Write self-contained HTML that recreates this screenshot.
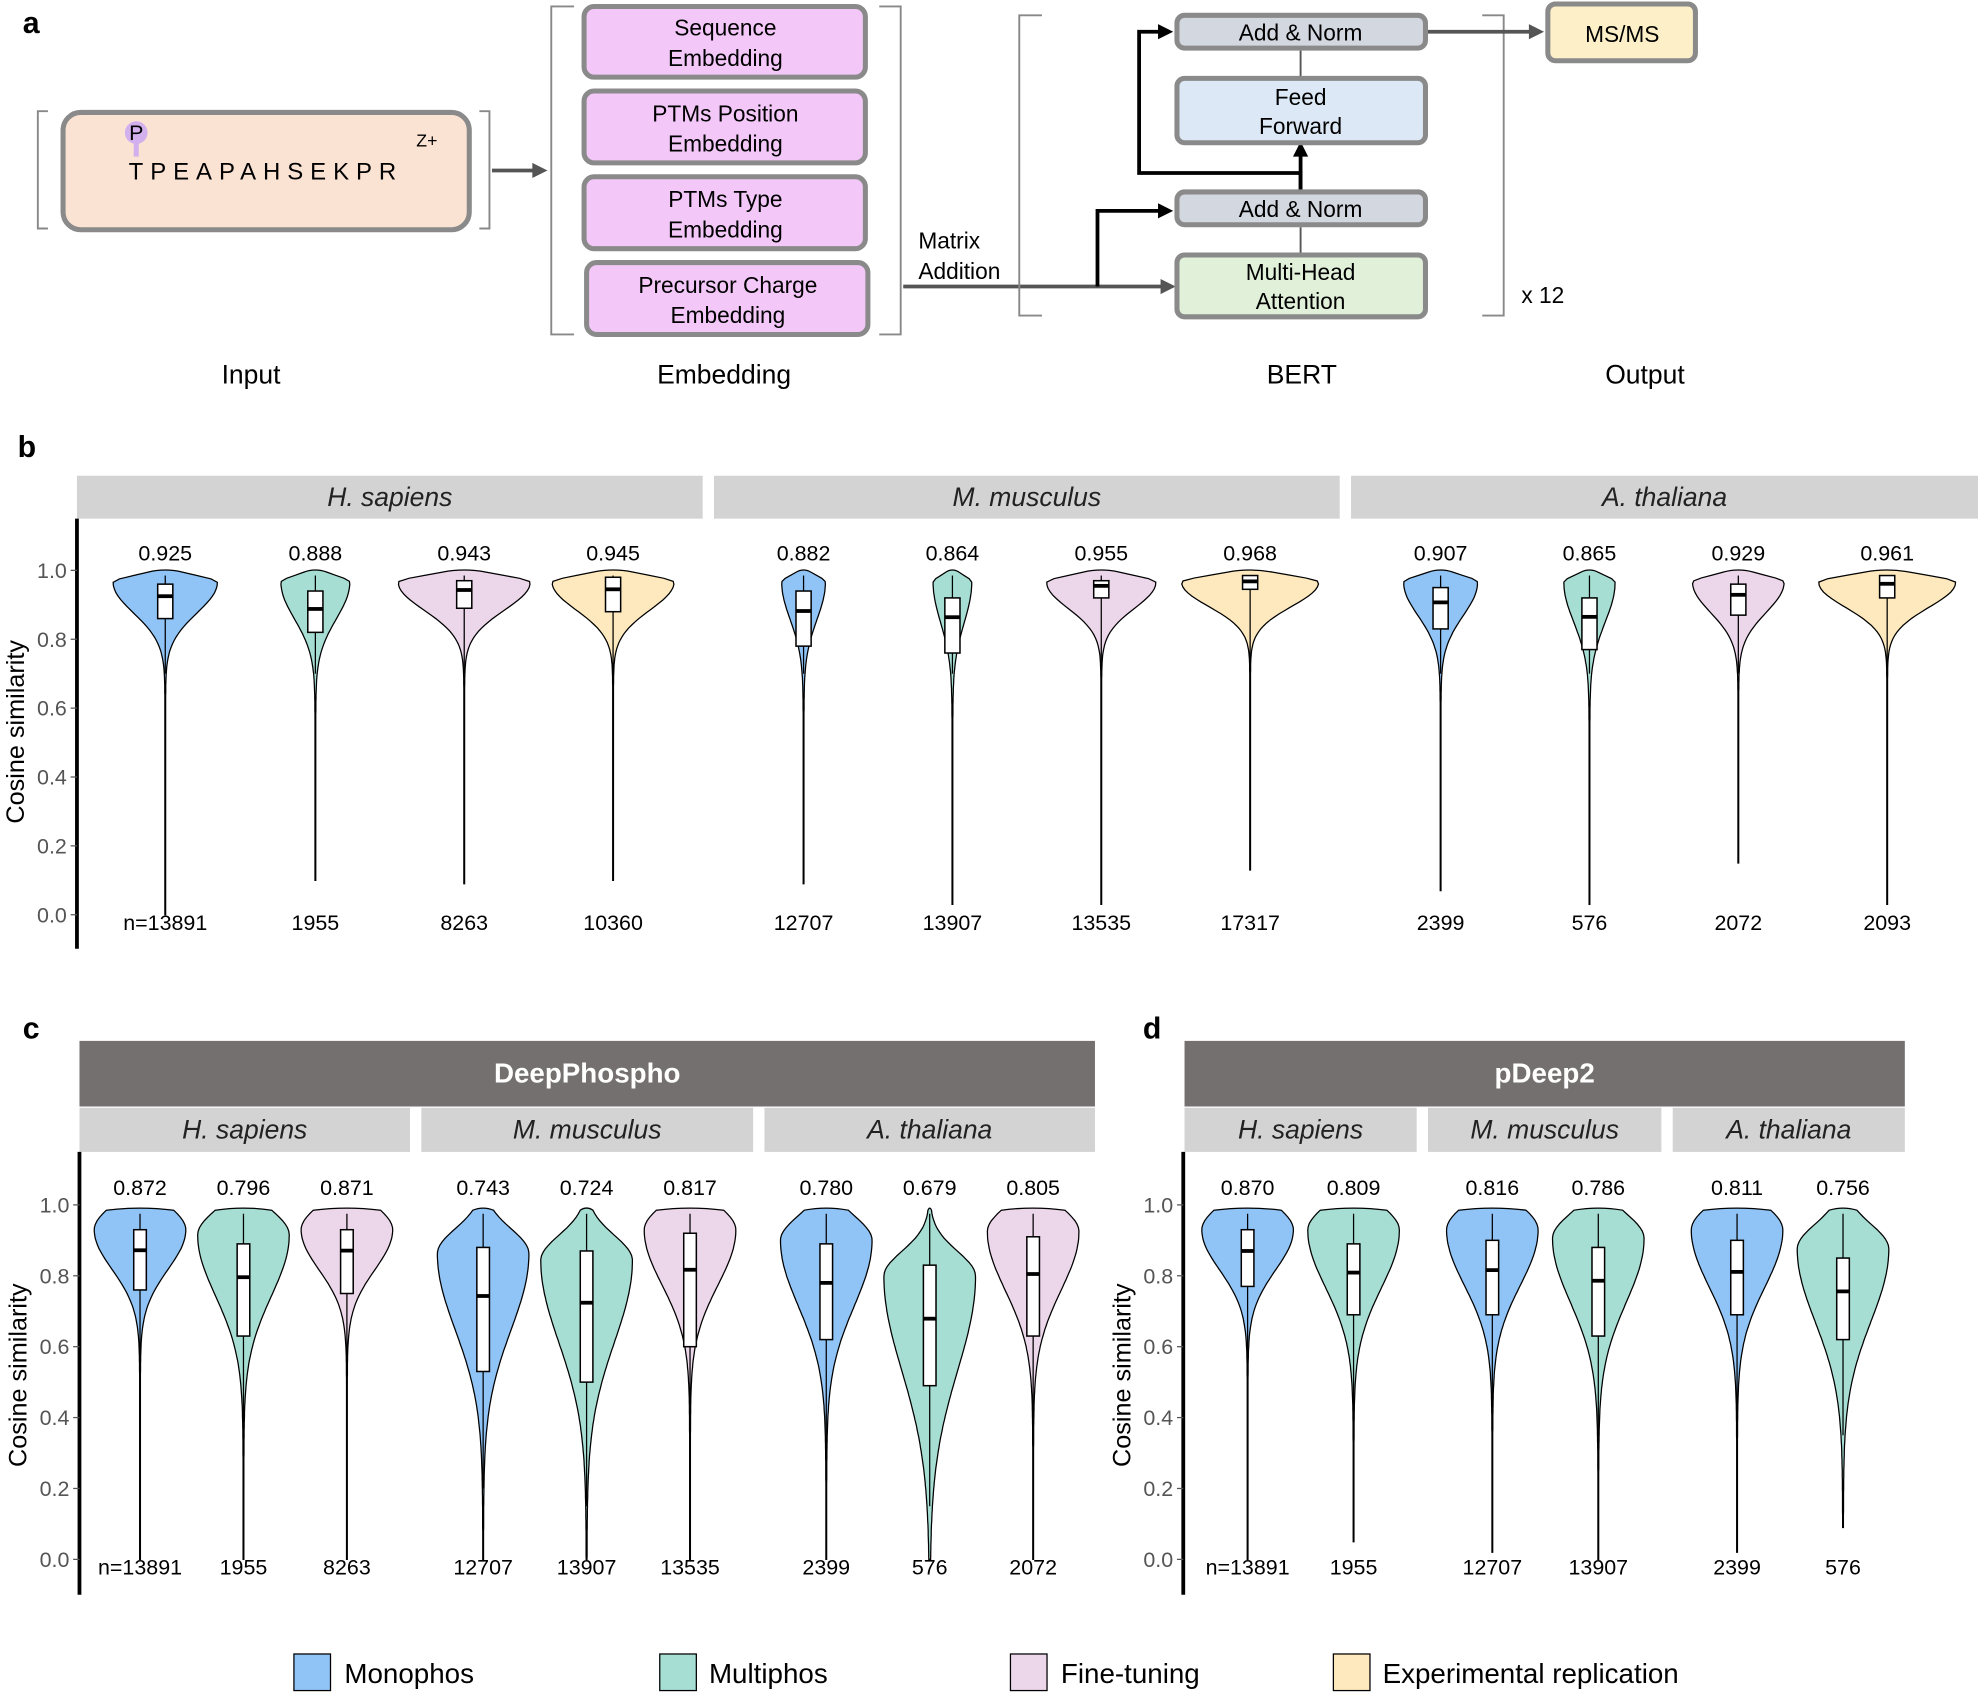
<!DOCTYPE html>
<html><head><meta charset="utf-8">
<style>
html,body{margin:0;padding:0;background:#fff;}
svg{display:block;}
text{font-family:"Liberation Sans",Arial,sans-serif;}
</style></head>
<body>
<svg id="s" width="1978" height="1692" viewBox="0 0 1568 1341" xmlns="http://www.w3.org/2000/svg">
<rect width="1568" height="1341" fill="#fff"/>
<text x="18" y="26" font-size="24" font-weight="bold">a</text>
<path d="M38 88 H30 V181 H38 M380 88 H388 V181 H380" fill="none" stroke="#888" stroke-width="1.5"/>
<rect x="50" y="89" width="322" height="93" rx="14" fill="#fbe3d4" stroke="#8a8a8a" stroke-width="4"/>
<circle cx="108" cy="105" r="9" fill="#d2b0ee"/>
<rect x="106" y="112" width="4" height="12" fill="#d2b0ee"/>
<text x="108" y="111" font-size="17" text-anchor="middle">P</text>
<text x="330" y="116" font-size="14">Z+</text>
<text x="102" y="142" font-size="19" letter-spacing="5.5">TPEAPAHSEKPR</text>
<path d="M390 135 H424" stroke="#555" stroke-width="3"/>
<path d="M422 129 L434 135 L422 141Z" fill="#555"/>
<path d="M455 5 H437 V265 H455 M697 5 H714 V265 H697" fill="none" stroke="#888" stroke-width="1.5"/>
<g font-size="18" text-anchor="middle">
<rect x="463" y="5" width="223" height="56" rx="8" fill="#f3c8f9" stroke="#8a8a8a" stroke-width="4"/>
<text x="575" y="28">Sequence</text><text x="575" y="52">Embedding</text>
<rect x="463" y="72" width="223" height="57" rx="8" fill="#f3c8f9" stroke="#8a8a8a" stroke-width="4"/>
<text x="575" y="96">PTMs Position</text><text x="575" y="120">Embedding</text>
<rect x="463" y="140" width="223" height="57" rx="8" fill="#f3c8f9" stroke="#8a8a8a" stroke-width="4"/>
<text x="575" y="164">PTMs Type</text><text x="575" y="188">Embedding</text>
<rect x="465" y="208" width="223" height="57" rx="8" fill="#f3c8f9" stroke="#8a8a8a" stroke-width="4"/>
<text x="577" y="232">Precursor Charge</text><text x="577" y="256">Embedding</text>
</g>
<text x="728" y="197" font-size="18">Matrix</text>
<text x="728" y="221" font-size="18">Addition</text>
<path d="M716 227 H922" stroke="#555" stroke-width="3"/>
<path d="M920 221 L932 227 L920 233Z" fill="#555"/>
<path d="M870 227 V167 H920" fill="none" stroke="#000" stroke-width="3"/>
<path d="M918 161 L930 167 L918 173Z" fill="#000"/>
<path d="M1031 152 V137 H903 V25 H920" fill="none" stroke="#000" stroke-width="3"/>
<path d="M918 19 L930 25 L918 31Z" fill="#000"/>
<path d="M1031 150 V122" stroke="#000" stroke-width="3"/>
<path d="M1025 124 L1031 112 L1037 124Z" fill="#000"/>
<path d="M1031 40 V62 M1031 180 V202" stroke="#555" stroke-width="1.5"/>
<path d="M826 12 H808 V250 H826 M1175 12 H1192 V250 H1175" fill="none" stroke="#888" stroke-width="1.5"/>
<g font-size="18" text-anchor="middle">
<rect x="933" y="12" width="197" height="26" rx="6" fill="#d3d7e0" stroke="#8a8a8a" stroke-width="4"/>
<text x="1031" y="32">Add &amp; Norm</text>
<rect x="933" y="62" width="197" height="51" rx="6" fill="#dce8f5" stroke="#8a8a8a" stroke-width="4"/>
<text x="1031" y="83">Feed</text><text x="1031" y="106">Forward</text>
<rect x="933" y="152" width="197" height="26" rx="6" fill="#d3d7e0" stroke="#8a8a8a" stroke-width="4"/>
<text x="1031" y="172">Add &amp; Norm</text>
<rect x="933" y="202" width="197" height="49" rx="6" fill="#e1f0d9" stroke="#8a8a8a" stroke-width="4"/>
<text x="1031" y="222">Multi-Head</text><text x="1031" y="245">Attention</text>
<rect x="1227" y="3" width="117" height="45" rx="6" fill="#fdf0c8" stroke="#8a8a8a" stroke-width="4"/>
<text x="1286" y="33">MS/MS</text>
</g>
<path d="M1132 25 H1214" stroke="#555" stroke-width="3"/>
<path d="M1212 19 L1224 25 L1212 31Z" fill="#555"/>
<text x="1206" y="240" font-size="18">x 12</text>
<g font-size="21" text-anchor="middle">
<text x="199" y="304">Input</text><text x="574" y="304">Embedding</text>
<text x="1032" y="304">BERT</text><text x="1304" y="304">Output</text>
</g>
<text x="14" y="362" font-size="24" font-weight="bold">b</text>
<text x="18" y="823" font-size="24" font-weight="bold">c</text>
<text x="906" y="823" font-size="24" font-weight="bold">d</text>
<g id="plots"></g>
<g font-size="22">
<rect x="233" y="1311" width="29" height="29" fill="#90c4f6" stroke="#000" stroke-width="1"/><text x="273" y="1334">Monophos</text>
<rect x="523" y="1311" width="29" height="29" fill="#a6ded3" stroke="#000" stroke-width="1"/><text x="562" y="1334">Multiphos</text>
<rect x="801" y="1311" width="29" height="29" fill="#ecd6ea" stroke="#000" stroke-width="1"/><text x="841" y="1334">Fine-tuning</text>
<rect x="1057" y="1311" width="29" height="29" fill="#fde9bd" stroke="#000" stroke-width="1"/><text x="1096" y="1334">Experimental replication</text>
</g>
</svg>
<script>
var G=document.getElementById("plots"),out="";
var C=["#90c4f6","#a6ded3","#ecd6ea","#fde9bd"];
function strip(x1,x2,y1,y2,t,fill,col,it,bold,fs){out+='<rect x="'+x1+'" y="'+y1+'" width="'+(x2-x1)+'" height="'+(y2-y1)+'" fill="'+fill+'"/>';
out+='<text x="'+((x1+x2)/2)+'" y="'+(y1+(y2-y1)/2+7)+'" font-size="'+fs+'" text-anchor="middle" fill="'+col+'"'+(it?' font-style="italic"':'')+(bold?' font-weight="bold"':'')+'>'+t+'</text>';}
function axis(x,y0,ys,ybot,ytop,ty){out+='<path d="M'+x+' '+ytop+' V'+ybot+'" stroke="#000" stroke-width="3"/>';
for(var i=0;i<=5;i++){var v=i/5,y=y0-ys*v;out+='<text x="'+(x-8)+'" y="'+(y+6)+'" font-size="17" fill="#555" text-anchor="end">'+v.toFixed(1)+'</text><path d="M'+(x-5)+' '+y+' H'+x+'" stroke="#555"/>';}
out+='<text transform="translate('+(x-42)+','+ty+') rotate(-90)" font-size="20" text-anchor="middle">Cosine similarity</text>';}
function violin(cx,y0,ys,W,m,sT,sB,lo,top,col,med,q1,q3,wl,bw,lab,n){
 var L=[],R=[];var N=100;
 for(var i=0;i<=N;i++){var v=lo+(top-lo)*i/N;var s=v>m?sT:sB;var w=W*Math.exp(-0.5*Math.pow((v-m)/s,2))+0.3;
  var y=y0-ys*v;L.push((cx-w).toFixed(1)+' '+y.toFixed(1));R.unshift((cx+w).toFixed(1)+' '+y.toFixed(1));}
 var yt=y0-ys*(top+0.012);
 out+='<path d="M'+L.join(' L')+' Q'+cx+' '+yt+' '+R.join(' L')+' Z" fill="'+col+'" stroke="#000" stroke-width="1"/>';
 var Y=function(v){return y0-ys*v;};
 out+='<path d="M'+cx+' '+Y(top-0.01)+' V'+Y(wl)+'" stroke="#000" stroke-width="1"/>';
 out+='<rect x="'+(cx-bw/2)+'" y="'+Y(q3)+'" width="'+bw+'" height="'+(Y(q1)-Y(q3))+'" fill="#fff" stroke="#000" stroke-width="1.2"/>';
 out+='<path d="M'+(cx-bw/2)+' '+Y(med)+' H'+(cx+bw/2)+'" stroke="#000" stroke-width="3"/>';
 out+='<text x="'+cx+'" y="'+lab+'" font-size="17" text-anchor="middle">'+med.toFixed(3)+'</text>';
 out+='<text x="'+cx+'" y="'+n.y+'" font-size="17" text-anchor="middle">'+n.t+'</text>';
}
strip(61,557,377,411,"H. sapiens","#d3d3d3","#222",1,0,21);strip(566,1062,377,411,"M. musculus","#d3d3d3","#222",1,0,21);strip(1071,1568,377,411,"A. thaliana","#d3d3d3","#222",1,0,21);
axis(61,725,273,752,411,580);
var B=[[131,41,0.0,0.925,"n=13891",0.96,0.86],[250,27,0.10,0.888,"1955",0.94,0.82],[368,52,0.09,0.943,"8263",0.97,0.89],[486,48,0.10,0.945,"10360",0.98,0.88],
[637,17,0.09,0.882,"12707",0.94,0.78],[755,15,0.03,0.864,"13907",0.92,0.76],[873,43,0.03,0.955,"13535",0.97,0.92],[991,54,0.13,0.968,"17317",0.985,0.945],
[1142,29,0.07,0.907,"2399",0.95,0.83],[1260,20,0.03,0.865,"576",0.92,0.77],[1378,36,0.15,0.929,"2072",0.96,0.87],[1496,54,0.03,0.961,"2093",0.985,0.92]];
B.forEach(function(d,i){violin(d[0],725,273,d[1],0.965,0.02,0.055+(1-d[3])*0.45,d[2],0.995,C[i%4],d[3],d[6],d[5],0.7,12,444,{t:d[4],y:737});});
strip(63,868,825,877,"DeepPhospho","#757070","#fff",0,1,22);
strip(63,325,878,913,"H. sapiens","#d3d3d3","#222",1,0,21);strip(334,597,878,913,"M. musculus","#d3d3d3","#222",1,0,21);strip(606,868,878,913,"A. thaliana","#d3d3d3","#222",1,0,21);
axis(63,1236,281,1264,913,1090);
strip(939,1510,825,877,"pDeep2","#757070","#fff",0,1,22);
strip(939,1123,878,913,"H. sapiens","#d3d3d3","#222",1,0,21);strip(1132,1317,878,913,"M. musculus","#d3d3d3","#222",1,0,21);strip(1326,1510,878,913,"A. thaliana","#d3d3d3","#222",1,0,21);
axis(938,1236,281,1264,913,1090);
var Cc=[[111,0,0.872,"n=13891",0,0.93,0.76,0.4],[193,1,0.796,"1955",0,0.89,0.63,0.2],[275,2,0.871,"8263",0,0.93,0.75,0.4],
[383,0,0.743,"12707",0,0.88,0.53,0.2],[465,1,0.724,"13907",0,0.87,0.5,0.15],[547,2,0.817,"13535",0,0.92,0.6,0.15],
[655,0,0.780,"2399",0,0.89,0.62,0.3],[737,1,0.679,"576",0,0.83,0.49,0.15],[819,2,0.805,"2072",0,0.91,0.63,0.2],
[989,0,0.870,"n=13891",0,0.93,0.77,0.4],[1073,1,0.809,"1955",0.05,0.89,0.69,0.4],[1183,0,0.816,"12707",0.02,0.9,0.69,0.4],[1267,1,0.786,"13907",0,0.88,0.63,0.3],
[1377,0,0.811,"2399",0.02,0.9,0.69,0.4],[1461,1,0.756,"576",0.09,0.85,0.62,0.35]];
Cc.forEach(function(d){var m=Math.min(0.93,d[2]+0.12);violin(d[0],1236,281,36,m,0.07,0.09+(0.9-d[2])*0.8,d[4],0.985,C[d[1]],d[2],d[6],d[5],d[7],10,947,{t:d[3],y:1248});});
G.innerHTML=out;
</script>
</body></html>
